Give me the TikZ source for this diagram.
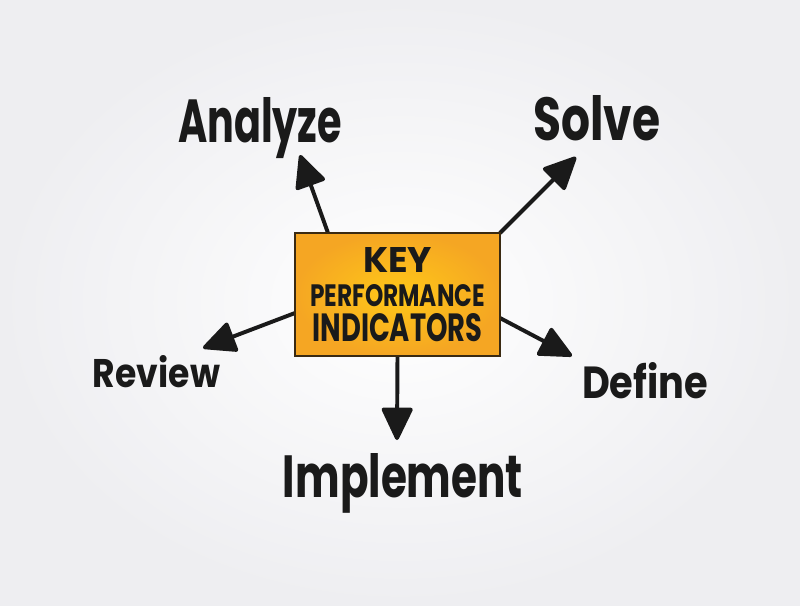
\documentclass[tikz,border=0pt]{standalone}
\usepackage{fontspec}
\setmainfont{Poppins}
\usepackage{graphicx}
\usetikzlibrary{arrows.meta,calc}

\newlength{\pxu}\setlength{\pxu}{0.025cm}
% word squeezed to a given width and height (in px)
\newcommand{\word}[3]{\resizebox{#1\pxu}{#2\pxu}{\bfseries #3}}

\definecolor{bgedge}{HTML}{EEEEF1}
\definecolor{kpiinner}{HTML}{FFC818}
\definecolor{kpiouter}{HTML}{F5A623}
\definecolor{kpiline}{HTML}{3A2A12}
\definecolor{ink}{HTML}{1A1A1A}

\tikzset{
  lbl/.style={inner sep=0pt, anchor=base, text=ink},
  arr/.style={draw=ink, line width=2.8pt, line cap=round,
    -{Triangle[length=25pt,width=23pt,round]}},
}

\begin{document}
\begin{tikzpicture}[x=0.025cm,y=-0.025cm]
  %%%%% background %%%%%
  \shade[inner color=white, outer color=bgedge] (0,0) rectangle (800,605);
  \useasboundingbox (0,0) rectangle (800,605);

  %%%%% labels %%%%%
  \node[lbl] (analyze)   at (260,142) {\word{164}{45}{Analyze}};
  \node[lbl] (solve)     at (597,140) {\word{127}{45}{Solve}};
  \node[lbl] (review)    at (156.5,387) {\word{127}{32}{Review}};
  \node[lbl] (define)    at (645,398) {\word{126}{36}{Define}};
  \node[lbl] (implement) at (403,497) {\word{240}{44}{Implement}};

  %%%%% arrow tips %%%%%
  \coordinate (tipA) at (300,155);
  \coordinate (tipS) at (576,157);
  \coordinate (tipR) at (203,348);
  \coordinate (tipD) at (572,356);
  \coordinate (tipI) at (397,440);

  %%%%% box position %%%%%
  \path (397.5,294.5) coordinate (kpic);
  \coordinate (kpinw) at (295,233);
  \coordinate (kpise) at (500,356);

  \draw[arr] (328,233) -- (tipA);
  \draw[arr] (kpinw -| kpise) -- (tipS);
  \draw[arr] (295,313) -- (tipR);
  \draw[arr] (500,318) -- (tipD);
  \draw[arr] (kpic |- kpise) -- (tipI);

  %%%%% central box %%%%%
  \node[draw=kpiline, line width=1.4pt, inner color=kpiinner, outer color=kpiouter,
        minimum width=5.125cm, minimum height=3.075cm, inner sep=0pt,
        align=center, text=ink, font={\fontsize{10}{24.6pt}\selectfont}]
        (kpi) at (kpic)
        {\word{69}{25}{KEY}\\ \word{175}{22}{PERFORMANCE}\\ \word{170}{28}{INDICATORS}};
\end{tikzpicture}
\end{document}
